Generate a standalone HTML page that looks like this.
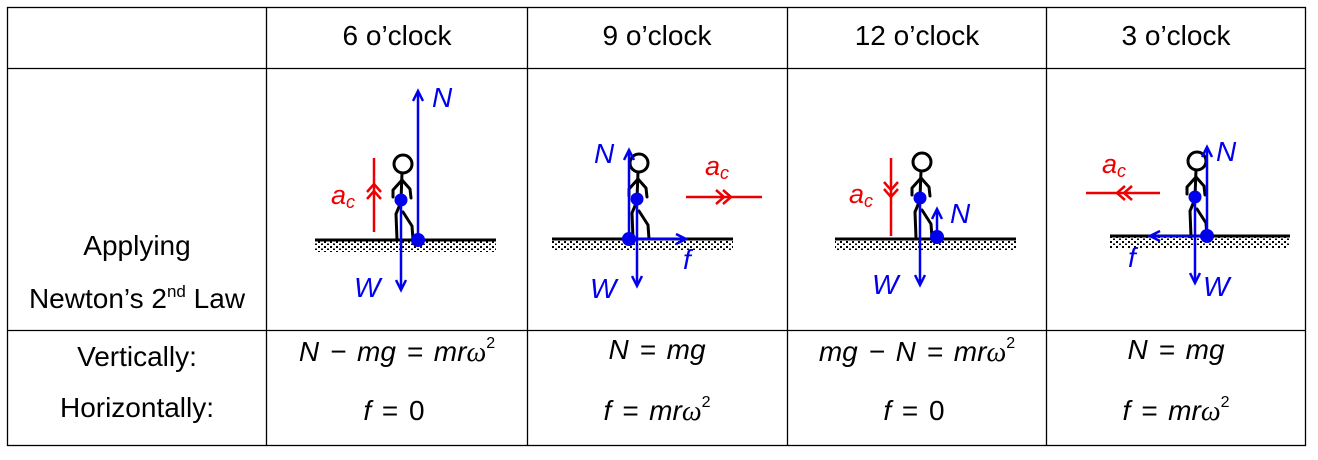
<!DOCTYPE html>
<html><head><meta charset="utf-8"><style>
html,body{margin:0;padding:0;background:#fff;width:1318px;height:460px;overflow:hidden}
svg text{font-family:"Liberation Sans",Arial,sans-serif}
</style></head><body>
<svg width="1318" height="460" viewBox="0 0 1318 460" xmlns="http://www.w3.org/2000/svg">
<defs>
<pattern id="dots" width="6" height="5" patternUnits="userSpaceOnUse">
<rect x="0" y="1" width="2" height="2" fill="#000"/>
<rect x="3" y="3.5" width="2" height="1.5" fill="#000"/>
</pattern>
<marker id="ab" markerWidth="14" markerHeight="12" refX="11" refY="6" orient="auto" markerUnits="userSpaceOnUse">
<path d="M1,1 L11,6 L1,11" fill="none" stroke="#0000ee" stroke-width="2.5"/>
</marker>
<g id="fig" fill="none" stroke="#000" stroke-width="3" stroke-linecap="round" stroke-linejoin="round">
<circle cx="2" cy="-36" r="9"/>
<path d="M1,-27 L0,0"/>
<path d="M1,-20 L-8,-10 L-8,-3"/>
<path d="M1,-20 L9,-11 L10,-2"/>
<path d="M0,2 L-5,14 L-4,40"/>
<path d="M2,12 L11,26 L12,40"/>
</g>
</defs>
<g stroke="#000" stroke-width="1.3" fill="none">
<rect x="7.5" y="7.5" width="1298" height="438"/>
<line x1="7" y1="68.5" x2="1306" y2="68.5"/>
<line x1="7" y1="330.5" x2="1306" y2="330.5"/>
<line x1="266.5" y1="7" x2="266.5" y2="446"/>
<line x1="527.5" y1="7" x2="527.5" y2="446"/>
<line x1="787.5" y1="7" x2="787.5" y2="446"/>
<line x1="1046.5" y1="7" x2="1046.5" y2="446"/>
</g>
<g font-size="28" text-anchor="middle" fill="#000">
<text x="397" y="45">6 o’clock</text>
<text x="657" y="45">9 o’clock</text>
<text x="917" y="45">12 o’clock</text>
<text x="1176" y="45">3 o’clock</text>
<text x="137" y="255">Applying</text>
<text x="137" y="308">Newton’s 2<tspan font-size="17" dy="-11">nd</tspan><tspan dy="11"> Law</tspan></text>
<text x="137" y="366">Vertically:</text>
<text x="137" y="417">Horizontally:</text>
</g>
<g font-size="28" font-style="italic" text-anchor="middle" fill="#000" word-spacing="3">
<text x="397" y="361">N − mg = mr<tspan font-family="Liberation Serif">ω</tspan><tspan font-size="16" dy="-13" font-style="normal">2</tspan></text>
<text x="394" y="420">f <tspan font-style="normal">= 0</tspan></text>
<text x="657" y="359">N = mg</text>
<text x="657" y="420">f = mr<tspan font-family="Liberation Serif">ω</tspan><tspan font-size="16" dy="-13" font-style="normal">2</tspan></text>
<text x="917" y="361">mg − N = mr<tspan font-family="Liberation Serif">ω</tspan><tspan font-size="16" dy="-13" font-style="normal">2</tspan></text>
<text x="914" y="420">f <tspan font-style="normal">= 0</tspan></text>
<text x="1176" y="359">N = mg</text>
<text x="1176" y="420">f = mr<tspan font-family="Liberation Serif">ω</tspan><tspan font-size="16" dy="-13" font-style="normal">2</tspan></text>
</g>

<g>
<rect x="315" y="241" width="181" height="11" fill="url(#dots)"/><line x1="315" y1="240" x2="496" y2="240" stroke="#000" stroke-width="3"/>
<rect x="552" y="240" width="181" height="11" fill="url(#dots)"/><line x1="552" y1="239" x2="733" y2="239" stroke="#000" stroke-width="3"/>
<rect x="835" y="240" width="181" height="11" fill="url(#dots)"/><line x1="835" y1="239" x2="1016" y2="239" stroke="#000" stroke-width="3"/>
<rect x="1110" y="237" width="180" height="11" fill="url(#dots)"/><line x1="1110" y1="236" x2="1290" y2="236" stroke="#000" stroke-width="3"/>
</g>
<use href="#fig" x="401" y="200"/>
<use href="#fig" x="637" y="199"/>
<use href="#fig" x="920" y="198"/>
<use href="#fig" x="1195" y="197"/>

<g stroke="#ee0000" stroke-width="2.5" fill="none">
<line x1="374" y1="158" x2="374" y2="232"/><path d="M367,192 L374,184 L381,192 M367,199 L374,191 L381,199"/>
<line x1="686" y1="197" x2="762" y2="197"/><path d="M716,190 L724,197 L716,204 M723,190 L731,197 L723,204"/>
<line x1="891" y1="158" x2="891" y2="236"/><path d="M884,182 L891,190 L898,182 M884,189 L891,197 L898,189"/>
<line x1="1086" y1="193" x2="1160" y2="193"/><path d="M1125,186 L1117,193 L1125,200 M1132,186 L1124,193 L1132,200"/>
</g>
<g fill="#ee0000" font-size="27" font-style="italic">
<text x="331" y="204">a<tspan font-size="18" dy="4">c</tspan></text>
<text x="705" y="175">a<tspan font-size="18" dy="4">c</tspan></text>
<text x="849" y="203">a<tspan font-size="18" dy="4">c</tspan></text>
<text x="1102" y="173">a<tspan font-size="18" dy="4">c</tspan></text>
</g>

<g stroke="#0000ee" stroke-width="2.5" fill="none" marker-end="url(#ab)">
<line x1="418" y1="240" x2="418" y2="91"/>
<line x1="401" y1="200" x2="401" y2="290"/>
<line x1="629" y1="239" x2="629" y2="150"/>
<line x1="637" y1="199" x2="637" y2="286"/>
<line x1="629" y1="239" x2="686" y2="239"/>
<line x1="937" y1="237" x2="937" y2="209"/>
<line x1="920" y1="198" x2="920" y2="285"/>
<line x1="1207" y1="236" x2="1207" y2="147"/>
<line x1="1195" y1="197" x2="1195" y2="283"/>
<line x1="1207" y1="236" x2="1150" y2="236"/>
</g>
<g fill="#0000ee">
<circle cx="401" cy="200" r="6.5"/><circle cx="418" cy="240" r="7"/>
<circle cx="637" cy="199" r="6.5"/><circle cx="629" cy="239" r="7"/>
<circle cx="920" cy="198" r="6.5"/><circle cx="937" cy="237" r="7"/>
<circle cx="1195" cy="197" r="6.5"/><circle cx="1207" cy="236" r="7"/>
</g>
<g fill="#0000ee" font-size="28" font-style="italic">
<text x="432" y="107">N</text>
<text x="354" y="297">W</text>
<text x="594" y="163">N</text>
<text x="590" y="298">W</text>
<text x="683" y="269">f</text>
<text x="950" y="223">N</text>
<text x="872" y="294">W</text>
<text x="1216" y="161">N</text>
<text x="1203" y="296">W</text>
<text x="1128" y="267">f</text>
</g>
</svg>
</body></html>
